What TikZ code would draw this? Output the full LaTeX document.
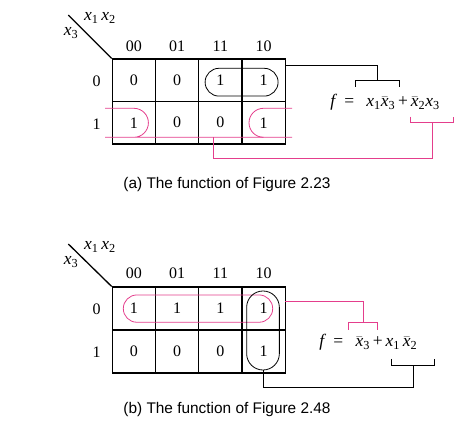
\documentclass[tikz,border=0pt]{standalone}
\usepackage{fontspec}
\setmainfont{Liberation Serif}
\newfontfamily\capfont{Liberation Sans}
\definecolor{kpink}{RGB}{228,62,140}
\newcommand\vxx{\textit{x}}
\newcommand\vxb{$\bar{\hbox{\itshape x}}$}
\newcommand\vsub[1]{\textsubscript{#1}}
\tikzset{
  cell/.style={draw, line width=1.2pt, minimum width=43.2pt, minimum height=42.5pt, inner sep=0pt, font=\fontsize{16}{18}\selectfont},
  lbl/.style={inner sep=0pt, font=\fontsize{16}{18}\selectfont},
  xlbl/.style={inner sep=0pt, font=\fontsize{17.5}{18}\selectfont},
  capt/.style={inner sep=0pt, font=\capfont\fontsize{15.4}{18}\selectfont},
  eq/.style={inner sep=0pt, font=\fontsize{17.5}{18}\selectfont},
  diag/.style={line width=1.3pt},
  conn/.style={line width=0.8pt},
  pinkconn/.style={line width=0.8pt, draw=kpink},
  bloop/.style={draw, line width=0.8pt, rounded corners=13.9pt, inner sep=0pt},
  ploop/.style={draw=kpink, line width=0.8pt, rounded corners=13.6pt, inner sep=0pt}
}
\begin{document}
\begin{tikzpicture}[x=1pt,y=-1pt]
\useasboundingbox (0,0) rectangle (474,430);
% ===== Map A =====
\node[lbl] (ah0) at (133.9,46) {00};
\node[lbl] (ah1) at (177.1,46) {01};
\node[lbl] (ah2) at (220.3,46) {11};
\node[lbl] (ah3) at (263.5,46) {10};
\node[cell] (a00) at (133.9,80.25) {0};
\node[cell] (a01) at (177.1,80.25) {0};
\node[cell] (a02) at (220.3,80.25) {1};
\node[cell] (a03) at (263.5,80.25) {1};
\node[cell] (a10) at (133.9,122.75) {1};
\node[cell] (a11) at (177.1,122.75) {0};
\node[cell] (a12) at (220.3,122.75) {0};
\node[cell] (a13) at (263.5,122.75) {1};
\node[lbl] (ar0) at (96.7,81) {0};
\node[lbl] (ar1) at (96.7,124) {1};
\node[xlbl] (ax12) at (100,18) {\vxx\vsub{1}\,\vxx\vsub{2}};
\node[xlbl] (ax3) at (71,33) {\vxx\vsub{3}};
\coordinate (adiag) at (68.3,15);
\draw[diag] (adiag) -- (a00.north west);
% black loop
\node[bloop, minimum width=73pt, minimum height=27.8pt] (aloop) at (241.6,82.2) {};
% pink half loops
\draw[kpink, line width=0.8pt] (105,108.3) -- (133.9,108.3) arc[start angle=-90, end angle=90, radius=14.5] -- (105,137.3) -- (292,137.3);
\draw[kpink, line width=0.8pt] (292,108.3) -- (263.5,108.3) arc[start angle=-90, end angle=-270, radius=14.5];
% equation A
\node[eq, anchor=base] (aeq) at (385,107) {\textit{f}\, =\;\, \vxx\vsub{1}\vxb\vsub{3}\,+\,\vxb\vsub{2}\vxx\vsub{3}};
\coordinate (aout) at (285,65.7);
\coordinate (abl) at (355.7,86.7);
\coordinate (abr) at (399.3,86.7);
\coordinate (abm) at (377.5,80.7);
\draw[conn] (abl) -- (abl |- abm) -- (abr |- abm) -- (abr);
\draw[conn] (aout) -| (abm);
\coordinate (apl) at (410,116.7);
\coordinate (apr) at (453.3,116.7);
\coordinate (apm) at (432,122.7);
\draw[pinkconn] (apl) -- (apl |- apm) -- (apr |- apm) -- (apr);
\coordinate (apin) at (213.3,137.3);
\draw[pinkconn] (apm) -- (432,158.3) -| (apin);
\node[capt] (acap) at (227,185) {(a) The function of Figure 2.23};
% ===== Map B =====
\node[lbl] (bh0) at (133.9,273.3) {00};
\node[lbl] (bh1) at (177.1,273.3) {01};
\node[lbl] (bh2) at (220.3,273.3) {11};
\node[lbl] (bh3) at (263.5,273.3) {10};
\node[cell] (b00) at (133.9,308.35) {1};
\node[cell] (b01) at (177.1,308.35) {1};
\node[cell] (b02) at (220.3,308.35) {1};
\node[cell] (b03) at (263.5,308.35) {1};
\node[cell] (b10) at (133.9,351.65) {0};
\node[cell] (b11) at (177.1,351.65) {0};
\node[cell] (b12) at (220.3,351.65) {0};
\node[cell] (b13) at (263.5,351.65) {1};
\node[lbl] (br0) at (96.7,309.5) {0};
\node[lbl] (br1) at (96.7,352) {1};
\node[xlbl] (bx12) at (100,246.7) {\vxx\vsub{1}\,\vxx\vsub{2}};
\node[xlbl] (bx3) at (71,262.3) {\vxx\vsub{3}};
\coordinate (bdiag) at (68.3,244);
\draw[diag] (bdiag) -- (b00.north west);
\node[ploop, minimum width=149.4pt, minimum height=27.3pt] (bploop) at (198,308.6) {};
\node[bloop, minimum width=32.7pt, minimum height=79pt, rounded corners=16.3pt] (bbloop) at (263,330.5) {};
\node[eq, anchor=base] (beq) at (368.3,347) {\textit{f}\, =\;\, \vxb\vsub{3}\,+\,\vxx\vsub{1}\,\vxb\vsub{2}};
\coordinate (bout) at (285,301.2);
\coordinate (bpl) at (348.3,330);
\coordinate (bpr) at (377.7,330);
\coordinate (bpm) at (363,322.7);
\draw[pinkconn] (bpl) -- (bpl |- bpm) -- (bpr |- bpm) -- (bpr);
\draw[pinkconn] (bout) -| (bpm);
\coordinate (bbl) at (391.7,359);
\coordinate (bbr) at (434.3,359);
\coordinate (bbm) at (413.3,365);
\draw[conn] (bbl) -- (bbl |- bbm) -- (bbr |- bbm) -- (bbr);
\draw[conn] (bbm) -- (413.3,387.3) -| (bbloop.south);
\node[capt] (bcap) at (227,410) {(b) The function of Figure 2.48};
\end{tikzpicture}
\end{document}
